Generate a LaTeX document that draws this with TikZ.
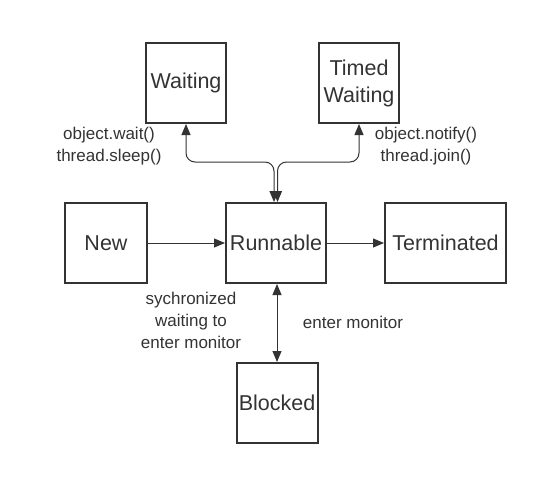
\documentclass[tikz,border=0pt]{standalone}
\usepackage{fontspec}
\setmainfont{Liberation Sans}
\usetikzlibrary{arrows.meta,calc}
\definecolor{ink}{HTML}{333333}
\begin{document}
\begin{tikzpicture}[x=1pt,y=-1pt,
  statebox/.style={draw=ink,line width=2pt,minimum height=80pt,inner sep=0pt,text=ink,align=center,
     font=\fontsize{21.5}{27}\selectfont},
  lbl/.style={text=ink,align=center,font=\fontsize{17}{22}\selectfont,inner sep=0pt},
  conn/.style={draw=ink,line width=1pt,-{Triangle[length=11pt,width=9pt]}},
  dconn/.style={draw=ink,line width=1pt,{Triangle[length=11pt,width=9pt]}-{Triangle[length=11pt,width=9pt]}},
  ]
\useasboundingbox (0,0) rectangle (552,483);
\node[statebox,minimum width=80pt] (wait) at (186,83) {Waiting};
\node[statebox,minimum width=80pt] (timed) at (359,83) {Timed\\Waiting};
\node[statebox,minimum width=82pt] (new) at (106,243) {New};
\node[statebox,minimum width=100pt] (run) at (276,243) {Runnable};
\node[statebox,minimum width=121pt] (term) at (445.5,243) {Terminated};
\node[statebox,minimum width=81pt] (blk) at (277,403) {Blocked};
\coordinate (rl) at ($(run.north)+(-2,0)$);
\coordinate (rr) at ($(run.north)+(1.5,0)$);
\coordinate (rb) at ($(run.south)+(1,0)$);
\draw[conn] (new) -- (run);
\draw[conn] (run) -- (term);
\draw[dconn] (rb) -- (blk.north);
\draw[dconn,rounded corners=9pt] (rl) -- ++(0,-40) -| (wait.south);
\draw[dconn,rounded corners=9pt] (rr) -- ++(0,-40) -| (timed.south);
\node[lbl] (l1) at (109,146) {object.wait()\\thread.sleep()};
\node[lbl] (l2) at (426,146) {object.notify()\\thread.join()};
\node[lbl] (l3) at (191,320) {sychronized\\waiting to\\enter monitor};
\node[lbl] (l4) at (353,322) {enter monitor};
\end{tikzpicture}
\end{document}
